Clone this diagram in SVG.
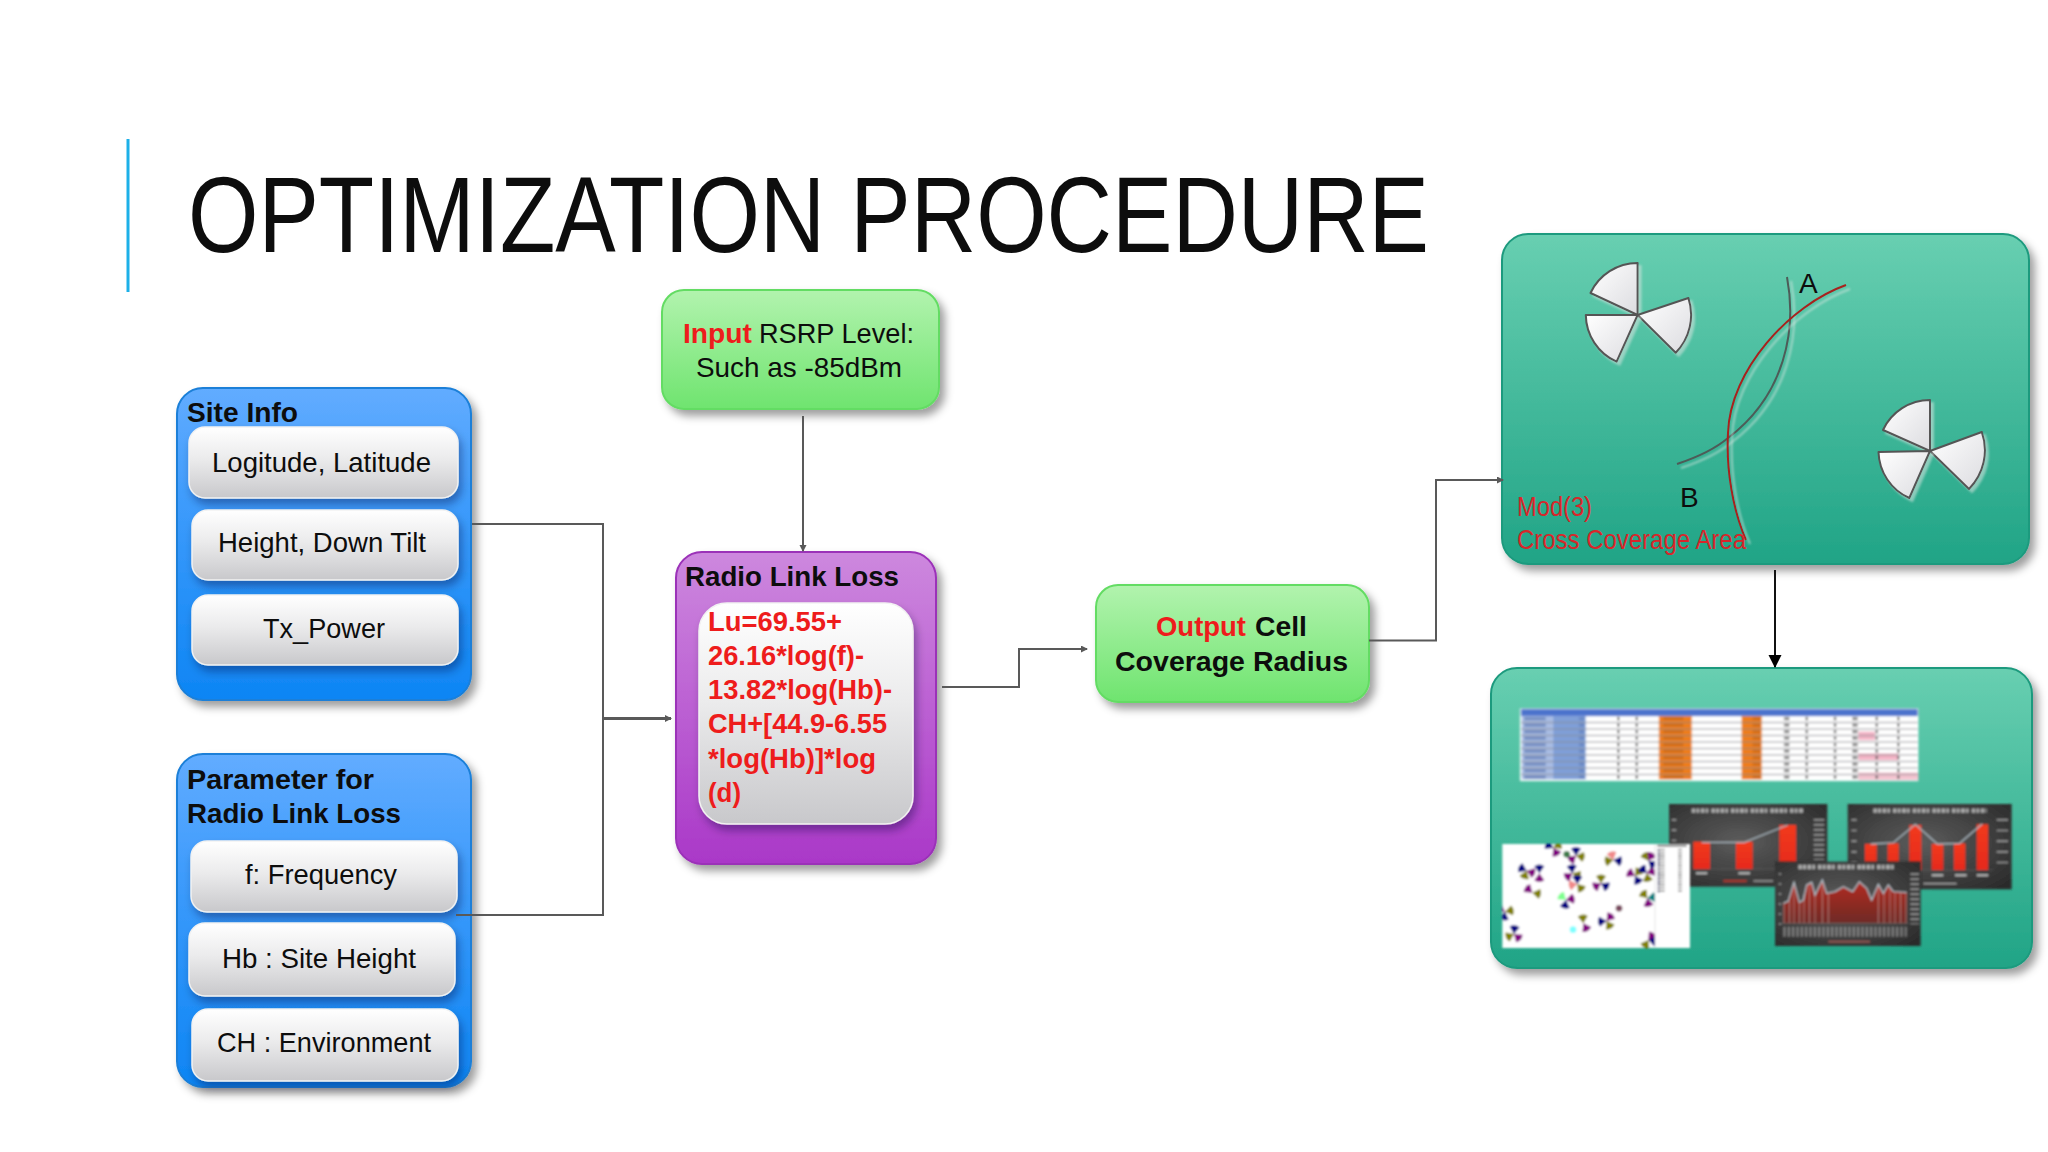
<svg xmlns="http://www.w3.org/2000/svg" xmlns:xlink="http://www.w3.org/1999/xlink" width="2048" height="1152" viewBox="0 0 2048 1152">
<style>
text{font-family:"Liberation Sans",Arial,sans-serif;font-size:28px;fill:#0d0d0d}
.b{font-weight:bold}
.r{fill:#ee1c1c}
.m{fill:#d8262a}
.blue{fill:url(#gBlue);stroke:#1a7fd8;stroke-width:2;filter:url(#sh)}
.gray{fill:url(#gGray);stroke:#f2f2f2;stroke-width:1.5;filter:url(#shIn)}
.green{fill:url(#gGreen);stroke:#63dc63;stroke-width:2;filter:url(#sh)}
.purple{fill:url(#gPurple);stroke:#9b30b8;stroke-width:2;filter:url(#sh)}
.teal{fill:url(#gTeal);stroke:#1e9a7e;stroke-width:2;filter:url(#sh)}
.cn{fill:none;stroke:#595959;stroke-width:2}
.sec{fill:url(#gSec);stroke:#555;stroke-width:2;stroke-linejoin:round;filter:url(#shSec)}
.n{fill:#000080}.p{fill:#800080}.o{fill:#808000}
.ax{fill:none;stroke:#cfcfcf;stroke-opacity:.6}
.tt{fill:none;stroke:#cfcfcf;stroke-width:13;stroke-dasharray:11 3 9 4 12 3 8 9;stroke-opacity:.75}
</style>
<defs>
<linearGradient id="gBlue" x1="0" y1="0" x2="0" y2="1"><stop offset="0" stop-color="#62acff"/><stop offset=".35" stop-color="#3f9cfc"/><stop offset="1" stop-color="#0d85f4"/></linearGradient>
<linearGradient id="gGray" x1="0" y1="0" x2="0" y2="1"><stop offset="0" stop-color="#ffffff"/><stop offset=".45" stop-color="#ebebec"/><stop offset="1" stop-color="#c8c8cb"/></linearGradient>
<linearGradient id="gGreen" x1="0" y1="0" x2="0" y2="1"><stop offset="0" stop-color="#b2f3ae"/><stop offset="1" stop-color="#6fe46f"/></linearGradient>
<linearGradient id="gPurple" x1="0" y1="0" x2="0" y2="1"><stop offset="0" stop-color="#cd88de"/><stop offset="1" stop-color="#aa38c8"/></linearGradient>
<linearGradient id="gTeal" x1="0" y1="0" x2="0" y2="1"><stop offset="0" stop-color="#68cfb1"/><stop offset="1" stop-color="#20a486"/></linearGradient>
<linearGradient id="gSec" x1="0" y1="0" x2="1" y2="1"><stop offset="0" stop-color="#ffffff"/><stop offset="1" stop-color="#dcdce0"/></linearGradient>
<linearGradient id="gBar" x1="0" y1="0" x2="0" y2="1"><stop offset="0" stop-color="#f23a1c"/><stop offset="1" stop-color="#e5291a"/></linearGradient>
<linearGradient id="gArea" x1="0" y1="0" x2="0" y2="1"><stop offset="0" stop-color="#b52a20"/><stop offset="1" stop-color="#6e2a26"/></linearGradient>
<radialGradient id="gChart" cx=".45" cy=".45" r=".7"><stop offset="0" stop-color="#5c5c5c"/><stop offset="1" stop-color="#2c2c2c"/></radialGradient>
<filter id="sh" x="-10%" y="-10%" width="125%" height="125%"><feDropShadow dx="5" dy="6" stdDeviation="4" flood-color="#000" flood-opacity=".38"/></filter>
<filter id="shIn" x="-10%" y="-10%" width="125%" height="130%"><feDropShadow dx="3" dy="6" stdDeviation="4" flood-color="#003" flood-opacity=".35"/></filter>
<filter id="shSec" x="-20%" y="-20%" width="150%" height="150%"><feDropShadow dx="3" dy="3" stdDeviation="1" flood-color="#d8e4e0" flood-opacity=".55"/></filter>
<filter id="shLine" x="-20%" y="-20%" width="150%" height="150%"><feDropShadow dx="4" dy="4" stdDeviation="1" flood-color="#dfe8e4" flood-opacity=".55"/></filter>
<filter id="bl" x="-5%" y="-5%" width="110%" height="110%"><feGaussianBlur stdDeviation="2.800"/></filter>
<marker id="ah" markerWidth="8" markerHeight="8" refX="6" refY="3.500" orient="auto" markerUnits="userSpaceOnUse"><path d="M0 0L7 3.500L0 7Z" fill="#595959"/></marker>
<marker id="ahB" markerWidth="14" markerHeight="14" refX="12" refY="6.500" orient="auto" markerUnits="userSpaceOnUse"><path d="M0 0L13 6.500L0 13Z" fill="#000"/></marker>
<path id="w" d="M0 0L-15 -21A26 26 0 0 1 15 -21Z"/>
<clipPath id="mapClip"><rect x="7" y="12" width="458" height="314"/></clipPath>
</defs>

<rect width="2048" height="1152" fill="#fff"/>

<g id="title">
<rect x="126.500" y="139" width="3" height="153" fill="#1cb0e8"/>
<text x="188" y="252" style="font-size:107px" textLength="1241" lengthAdjust="spacingAndGlyphs">OPTIMIZATION PROCEDURE</text>
</g>

<g id="site-info">
<rect class="blue" x="177" y="388" width="294" height="312" rx="26"/>
<text class="b" x="187" y="422" textLength="111" lengthAdjust="spacingAndGlyphs">Site Info</text>
</g>
<g id="logitude"><rect class="gray" x="189" y="427" width="269" height="71" rx="16"/>
<text x="212" y="472" textLength="219" lengthAdjust="spacingAndGlyphs">Logitude, Latitude</text></g>
<g id="height"><rect class="gray" x="192" y="510" width="266" height="70" rx="16"/>
<text x="218" y="552" textLength="208" lengthAdjust="spacingAndGlyphs">Height, Down Tilt</text></g>
<g id="tx-power"><rect class="gray" x="192" y="595" width="266" height="70" rx="16"/>
<text x="263" y="638" textLength="122" lengthAdjust="spacingAndGlyphs">Tx_Power</text></g>

<g id="parameter">
<rect class="blue" x="177" y="754" width="294" height="333" rx="26"/>
<text class="b" x="187" y="789" textLength="187" lengthAdjust="spacingAndGlyphs">Parameter for</text>
<text class="b" x="187" y="823" textLength="214" lengthAdjust="spacingAndGlyphs">Radio Link Loss</text>
</g>
<g id="frequency"><rect class="gray" x="191" y="841" width="266" height="71" rx="16"/>
<text x="245" y="884" textLength="152" lengthAdjust="spacingAndGlyphs">f: Frequency</text></g>
<g id="site-height"><rect class="gray" x="189" y="923" width="266" height="73" rx="16"/>
<text x="222" y="968" textLength="194" lengthAdjust="spacingAndGlyphs">Hb : Site Height</text></g>
<g id="environment"><rect class="gray" x="192" y="1009" width="266" height="72" rx="16"/>
<text x="217" y="1052" textLength="214" lengthAdjust="spacingAndGlyphs">CH : Environment</text></g>

<g id="input">
<rect class="green" x="662" y="290" width="277" height="119" rx="22"/>
<text class="b r" x="683" y="343" textLength="69" lengthAdjust="spacingAndGlyphs">Input</text>
<text x="759" y="343" textLength="155" lengthAdjust="spacingAndGlyphs">RSRP Level:</text>
<text x="696" y="377" textLength="206" lengthAdjust="spacingAndGlyphs">Such as -85dBm</text>
</g>

<g id="radio-link-loss">
<rect class="purple" x="676" y="552" width="260" height="312" rx="26"/>
<text class="b" x="685" y="586" textLength="214" lengthAdjust="spacingAndGlyphs">Radio Link Loss</text>
<rect class="gray" x="699" y="603" width="214" height="221" rx="28"/>
<text class="b r" x="708" y="631" textLength="134" lengthAdjust="spacingAndGlyphs">Lu=69.55+</text>
<text class="b r" x="708" y="665" textLength="156" lengthAdjust="spacingAndGlyphs">26.16*log(f)-</text>
<text class="b r" x="708" y="699" textLength="184" lengthAdjust="spacingAndGlyphs">13.82*log(Hb)-</text>
<text class="b r" x="708" y="733" textLength="179" lengthAdjust="spacingAndGlyphs">CH+[44.9-6.55</text>
<text class="b r" x="708" y="768" textLength="168" lengthAdjust="spacingAndGlyphs">*log(Hb)]*log</text>
<text class="b r" x="708" y="802" textLength="33" lengthAdjust="spacingAndGlyphs">(d)</text>
</g>

<g id="output">
<rect class="green" x="1096" y="585" width="273" height="117" rx="22"/>
<text class="b r" x="1156" y="636" textLength="90" lengthAdjust="spacingAndGlyphs">Output</text>
<text class="b" x="1255" y="636" textLength="52" lengthAdjust="spacingAndGlyphs">Cell</text>
<text class="b" x="1115" y="671" textLength="233" lengthAdjust="spacingAndGlyphs">Coverage Radius</text>
</g>

<g id="mod3-coverage">
<rect class="teal" x="1502" y="234" width="527" height="330" rx="26"/>
<path class="sec" d="M1637.600 315L1637.600 263A52 52 0 0 0 1590.500 293Z"/>
<path class="sec" d="M1637.600 315L1688.400 298A54 54 0 0 1 1675.700 352.700Z"/>
<path class="sec" d="M1637.600 315L1585.800 315A52 52 0 0 0 1616.600 361.700Z"/>
<path class="sec" d="M1930 451L1930 400A52 52 0 0 0 1883 430Z"/>
<path class="sec" d="M1930 451L1981.800 432A55 55 0 0 1 1969 489Z"/>
<path class="sec" d="M1930 451L1878.500 452A52 52 0 0 0 1909.300 498Z"/>
<path d="M1787 277C1797 330 1785 395 1728 438C1715 449 1695 458 1677 464" fill="none" stroke="#4d5c58" stroke-width="2" filter="url(#shLine)"/>
<path d="M1846 285C1790 305 1730 370 1728 433C1726 470 1733 510 1746 540" fill="none" stroke="#a8201e" stroke-width="2" filter="url(#shLine)"/>
<text x="1799" y="293" style="font-size:28px">A</text>
<text x="1680" y="507" style="font-size:28px">B</text>
<text class="m" x="1517" y="516" style="font-size:28px" textLength="75" lengthAdjust="spacingAndGlyphs">Mod(3)</text>
<text class="m" x="1517" y="549" style="font-size:28px" textLength="229" lengthAdjust="spacingAndGlyphs">Cross Coverage Area</text>
</g>

<g id="results">
<rect class="teal" x="1491" y="668" width="541" height="300" rx="26"/>

<g id="table" transform="translate(1515 700) scale(.33333)">
<g filter="url(#bl)">
<rect x="15" y="25" width="1195" height="218" fill="#fff"/>
<rect x="20" y="48" width="95" height="190" fill="#a8bce4"/>
<rect x="115" y="48" width="97" height="190" fill="#7f9fd8"/>
<rect x="432" y="48" width="98" height="190" fill="#ee7d1c"/>
<rect x="680" y="48" width="60" height="190" fill="#ee7d1c"/>
<rect x="1030" y="95" width="50" height="25" fill="#f5b4c6"/>
<rect x="1030" y="160" width="120" height="20" fill="#f5b4c6"/>
<rect x="1030" y="217" width="180" height="23" fill="#f5c4d0"/>
<rect x="18" y="27" width="1190" height="21" fill="#4c72cc"/>
<path d="M18 67.500H1208M18 87H1208M18 106.500H1208M18 126H1208M18 145.500H1208M18 165H1208M18 184.500H1208M18 204H1208M18 223.500H1208" stroke="#8a8a90" stroke-width="2.500"/>
<g fill="none" stroke-dasharray="9 10.500">
<path d="M60 51V240" stroke="#4f6aa8" stroke-width="64" opacity=".6"/>
<path d="M200 51V240" stroke="#5b79b8" stroke-width="16" opacity=".6"/>
<path d="M475 51V240" stroke="#a85a20" stroke-width="60" opacity=".45"/>
<path d="M725 51V240" stroke="#a85a20" stroke-width="24" opacity=".45"/>
<path d="M310 51V240M365 51V240M875 51V240M960 51V240M1085 51V240M1150 51V240" stroke="#555" stroke-width="6"/>
<path d="M815 51V240M1020 51V240" stroke="#666" stroke-width="16" opacity=".8"/>
</g>
</g>
</g>

<g id="charts" transform="translate(1660 795) scale(.33333)">
<g id="chart-a" filter="url(#bl)">
<rect x="27" y="27" width="475" height="248" fill="url(#gChart)"/>
<path class="tt" d="M95 47H430"/>
<path d="M100 222H450" stroke="#8a8a8a"/>
<rect x="100" y="140" width="50" height="82" fill="url(#gBar)"/>
<rect x="228" y="140" width="50" height="82" fill="url(#gBar)"/>
<rect x="358" y="90" width="50" height="132" fill="url(#gBar)"/>
<path d="M125 142H253L383 90" fill="none" stroke="#a8b4bc" stroke-width="4"/>
<path d="M477 72V195" class="ax" stroke-width="32" stroke-dasharray="5 10"/>
<path d="M42 72V195" class="ax" stroke-width="14" stroke-dasharray="5 26"/>
<path d="M108 235H142M235 235H270" stroke="#bbb" stroke-width="6"/>
<path d="M190 258H260" stroke="#c0352a" stroke-width="5"/>
<path d="M280 258H340" stroke="#aaa" stroke-width="4"/>
</g>
<g id="chart-b" filter="url(#bl)">
<rect x="563" y="27" width="492" height="256" fill="url(#gChart)"/>
<path class="tt" d="M640 47H980"/>
<path d="M600 225H1000" stroke="#8a8a8a"/>
<rect x="615" y="147" width="35" height="78" fill="url(#gBar)"/>
<rect x="683" y="145" width="33" height="80" fill="url(#gBar)"/>
<rect x="748" y="90" width="36" height="135" fill="url(#gBar)"/>
<rect x="815" y="147" width="35" height="78" fill="url(#gBar)"/>
<rect x="882" y="145" width="34" height="80" fill="url(#gBar)"/>
<rect x="950" y="88" width="34" height="137" fill="url(#gBar)"/>
<path d="M632 147L700 143L766 88L832 147L899 145L967 86" fill="none" stroke="#a8b4bc" stroke-width="4"/>
<path d="M1027 72V232" class="ax" stroke-width="34" stroke-dasharray="5 27"/>
<path d="M582 72V230" class="ax" stroke-width="16" stroke-dasharray="5 27"/>
<path d="M815 241H850M885 241H920M950 241H985" stroke="#bbb" stroke-width="6"/>
<path d="M790 266H890" stroke="#aaa" stroke-width="4"/>
</g>
<g id="chart-c" filter="url(#bl)">
<rect x="345" y="200" width="437" height="253" fill="url(#gChart)"/>
<path class="tt" d="M415 216H705"/>
<path d="M370 325L385 318L402 262L418 322L430 315L440 270L455 262L465 300L487 255L500 295L525 290L550 275L578 290L598 260L620 280L635 315L655 268L670 295L685 270L700 290L740 292V385H370Z" fill="url(#gArea)"/>
<path d="M372 385V325M388 385V318M402 385V262M418 385V322M432 385V300M448 385V265M465 385V300M487 385V255M505 385V295M655 385V268M672 385V295M690 385V280M705 385V292M722 385V292M738 385V292" stroke="#d8c4c0" stroke-width="2.500" opacity=".6"/>
<path d="M370 325L385 318L402 262L418 322L430 315L440 270L455 262L465 300L487 255L500 295L525 290L550 275L578 290L598 260L620 280L635 315L655 268L670 295L685 270L700 290L740 292" fill="none" stroke="#aebac2" stroke-width="4"/>
<path d="M365 385H745" stroke="#aaa"/>
<path d="M370 410H740" stroke="#b4b4b4" stroke-width="30" stroke-dasharray="7 6" opacity=".55"/>
<path d="M764 235V388" class="ax" stroke-width="26" stroke-dasharray="5 10"/>
<path d="M360 235V390" class="ax" stroke-width="8" stroke-dasharray="4 26"/>
<path d="M505 440H630" stroke="#9a5a55" stroke-width="5"/>
</g>
</g>

<g id="map" transform="translate(1500 840) scale(.33333)">
<g filter="url(#bl)">
<rect x="7" y="12" width="563" height="312" fill="#fff"/>
<g clip-path="url(#mapClip)">
<use href="#w" class="n" transform="translate(160 24) rotate(-60)"/><use href="#w" class="o" transform="translate(160 24) rotate(60)"/><use href="#w" class="p" transform="translate(160 24) rotate(150)"/>
<use href="#w" class="n" transform="translate(228 47) rotate(0)"/><use href="#w" class="o" transform="translate(228 47) rotate(100)"/><use href="#w" class="p" transform="translate(228 47) rotate(230)"/>
<use href="#w" class="n" transform="translate(80 92) rotate(-65)"/><use href="#w" class="p" transform="translate(80 92) rotate(110)"/><use href="#w" class="o" transform="translate(80 92) rotate(200)"/>
<use href="#w" class="n" transform="translate(118 100) rotate(0)"/><use href="#w" class="p" transform="translate(118 100) rotate(180)"/>
<use href="#w" class="n" transform="translate(217 100) rotate(-5)"/><use href="#w" class="p" transform="translate(217 100) rotate(235)"/><use href="#w" class="o" transform="translate(217 100) rotate(110)"/>
<use href="#w" class="n" transform="translate(232 132) rotate(0)"/><use href="#w" fill="#f08a8a" transform="translate(232 132) rotate(260)"/><use href="#w" class="o" transform="translate(232 132) rotate(140)"/>
<use href="#w" class="o" transform="translate(303 130) rotate(0)"/><use href="#w" class="p" transform="translate(303 130) rotate(240)"/><use href="#w" class="n" transform="translate(303 130) rotate(120)"/>
<use href="#w" fill="#f08a8a" transform="translate(340 60) rotate(-15)"/><use href="#w" class="o" transform="translate(340 60) rotate(260)"/><use href="#w" class="n" transform="translate(340 60) rotate(100)"/>
<use href="#w" class="p" transform="translate(97 158) rotate(-50)"/><use href="#w" class="o" transform="translate(97 158) rotate(100)"/>
<use href="#w" fill="#7fff8f" transform="translate(198 180) rotate(-50)"/><use href="#w" class="p" transform="translate(198 180) rotate(80)"/><use href="#w" class="n" transform="translate(198 180) rotate(190)"/>
<use href="#w" class="o" transform="translate(250 250) rotate(-5)"/><use href="#w" class="p" transform="translate(250 250) rotate(150)"/>
<use href="#w" class="n" transform="translate(320 243) rotate(265)"/><use href="#w" class="p" transform="translate(320 243) rotate(40)"/><use href="#w" class="o" transform="translate(320 243) rotate(150)"/>
<use href="#w" class="p" transform="translate(405 108) rotate(-60)"/><use href="#w" class="n" transform="translate(405 108) rotate(150)"/><use href="#w" class="o" transform="translate(405 108) rotate(40)"/>
<use href="#w" class="n" transform="translate(440 100) rotate(-45)"/><use href="#w" class="p" transform="translate(440 100) rotate(70)"/><use href="#w" class="o" transform="translate(440 100) rotate(170)"/>
<use href="#w" class="o" transform="translate(445 62) rotate(-30)"/><use href="#w" class="p" transform="translate(445 62) rotate(30)"/><use href="#w" class="n" transform="translate(445 62) rotate(130)"/>
<use href="#w" class="o" transform="translate(442 175) rotate(-40)"/><use href="#w" class="p" transform="translate(442 175) rotate(170)"/><use href="#w" fill="#008080" transform="translate(442 175) rotate(80)"/>
<use href="#w" class="o" transform="translate(15 215) rotate(80)"/><use href="#w" class="n" transform="translate(15 215) rotate(190)"/><use href="#w" class="p" transform="translate(15 215) rotate(-60)"/>
<use href="#w" class="n" transform="translate(42 282) rotate(5)"/><use href="#w" class="o" transform="translate(42 282) rotate(245)"/><use href="#w" class="p" transform="translate(42 282) rotate(130)"/>
<use href="#w" class="p" transform="translate(445 300) rotate(40)"/><use href="#w" class="o" transform="translate(445 300) rotate(210)"/><use href="#w" class="n" transform="translate(445 300) rotate(100)"/>
<circle cx="200" cy="43" r="10" fill="#3d7a4a"/>
<circle cx="357" cy="205" r="10" fill="#7a4a5e"/>
<circle cx="219" cy="269" r="10" fill="#7fffff"/>
</g>
<path d="M465 12V324" stroke="#d8d8d8" stroke-width="2"/>
<path d="M472 17H560" stroke="#555" stroke-width="5"/>
<path d="M476 27V160" stroke="#3a3a6a" stroke-width="6" stroke-dasharray="6 3.500"/>
<path d="M485 27V160" stroke="#777" stroke-width="18" stroke-dasharray="4 5.500"/>
<path d="M540 27V160" stroke="#777" stroke-width="12" stroke-dasharray="4 5.500"/>
</g>
</g>
</g>

<g id="connectors">
<path class="cn" d="M472 524H603V718"/>
<path class="cn" d="M456 915H603V718"/>
<path class="cn" style="stroke-width:3" d="M603 718.500H671" marker-end="url(#ah)"/>
<path class="cn" d="M803 416V551" marker-end="url(#ah)"/>
<path class="cn" d="M942 687H1019V649H1087" marker-end="url(#ah)"/>
<path class="cn" d="M1369 640.500H1436V480H1503" marker-end="url(#ah)"/>
<path class="cn" style="stroke:#111" d="M1775 570V667" marker-end="url(#ahB)"/>
</g>
</svg>
